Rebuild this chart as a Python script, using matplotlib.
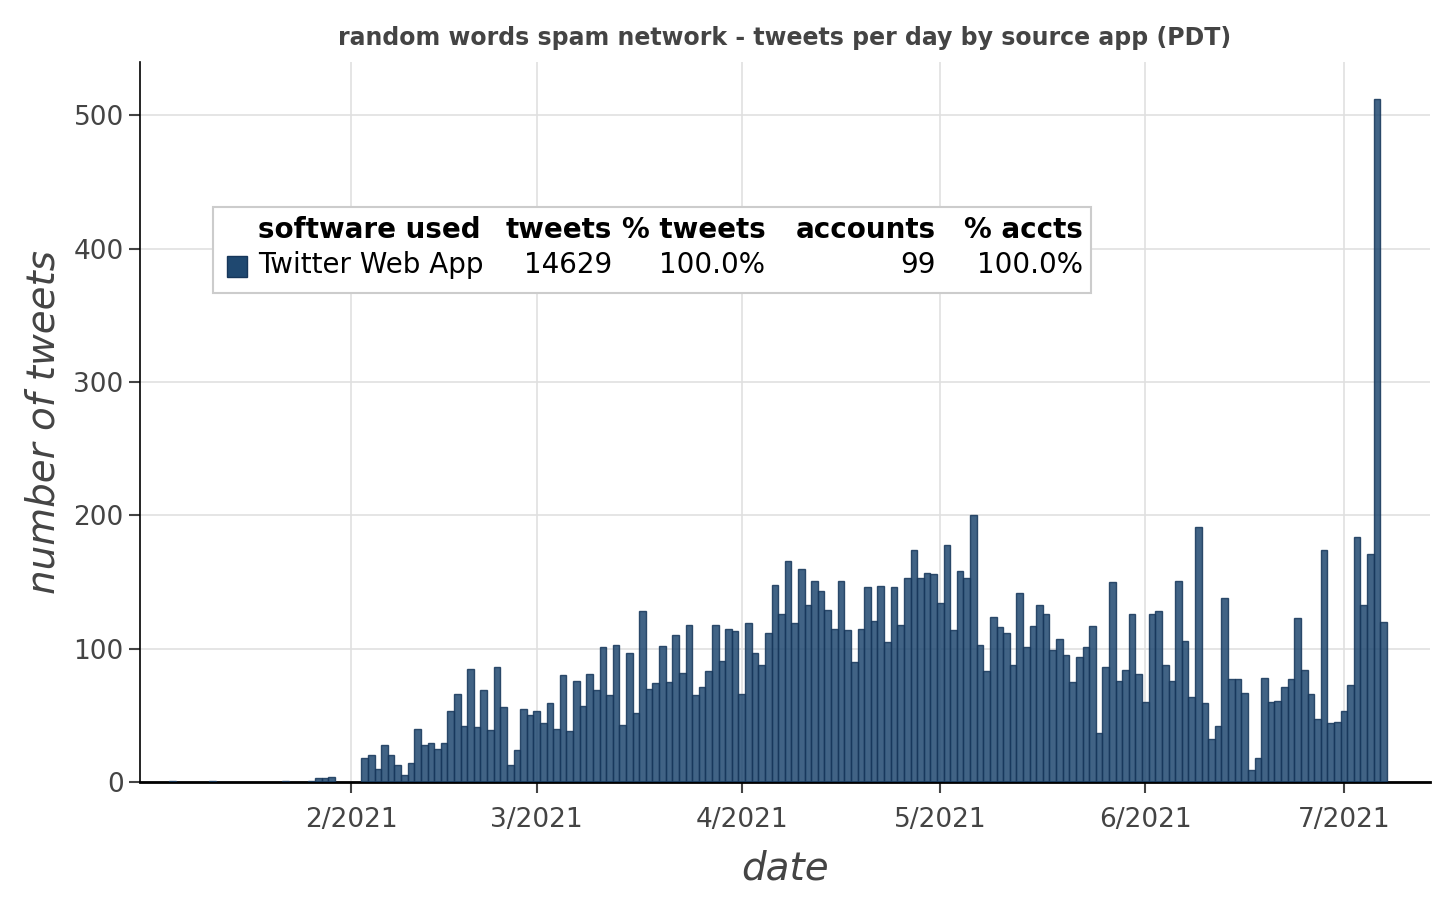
import numpy as np
import pandas as pd
import matplotlib.pyplot as plt
import matplotlib.dates as mdates
from matplotlib.patches import Rectangle

# early sparse days in January
early_dates = ["2021-01-05", "2021-01-11", "2021-01-22", "2021-01-26",
               "2021-01-27", "2021-01-28", "2021-01-29"]
early_counts = [1, 1, 1, 1, 3, 3, 4]

# daily counts from 2021-02-03 on
main_start = "2021-02-03"
main_counts = [
    18, 20, 10, 28, 20, 13, 5, 14, 40, 28,
    29, 25, 29, 53, 66, 42, 85, 41, 69, 39,
    86, 56, 13, 24, 55, 50, 53, 44, 59, 40,
    80, 38, 76, 57, 81, 69, 101, 65, 103, 43,
    97, 52, 128, 70, 74, 102, 75, 110, 82, 118,
    65, 71, 83, 118, 91, 115, 113, 66, 119, 97,
    88, 112, 148, 126, 166, 119, 160, 133, 151, 143,
    129, 115, 151, 114, 90, 115, 146, 121, 147, 105,
    146, 118, 153, 174, 153, 157, 156, 134, 178, 114,
    158, 153, 200, 103, 83, 124, 116, 112, 88, 142,
    101, 117, 133, 126, 99, 107, 95, 75, 94, 101,
    117, 37, 86, 150, 76, 84, 126, 81, 60, 126,
    128, 88, 76, 151, 106, 64, 191, 59, 32, 42,
    138, 77, 77, 67, 9, 18, 78, 60, 61, 71,
    77, 123, 84, 66, 47, 174, 44, 45, 53, 73,
    184, 133, 171, 512, 120,
]

legend_header = ["software used", "tweets", "% tweets", "accounts", "% accts"]
legend_row = ["Twitter Web App", "14629", "100.0%", "99", "100.0%"]

dates = list(pd.to_datetime(early_dates)) + list(
    pd.date_range(main_start, periods=len(main_counts), freq="D"))
counts = early_counts + main_counts

color = "#1f4870"
gray = "#444444"

fig = plt.figure(figsize=(14.4, 9), dpi=100)
ax = fig.add_axes([0.097, 0.131, 0.896, 0.80])
ax.bar(dates, counts, width=1.0, color=color, alpha=0.85,
       edgecolor="#16365a", linewidth=1.0, zorder=3)

ax.set_xlim(pd.Timestamp("2020-12-31"), pd.Timestamp("2021-07-14"))
ax.set_ylim(0, 540)
ax.xaxis.set_major_locator(mdates.MonthLocator(bymonth=range(2, 8)))
ax.xaxis.set_major_formatter(mdates.DateFormatter("%-m/%Y"))
ax.set_yticks([0, 100, 200, 300, 400, 500])
ax.grid(True, color="#e0e0e0", linewidth=1.2, zorder=0)
for s in ["top", "right"]:
    ax.spines[s].set_visible(False)
ax.spines["left"].set_linewidth(1.2)
ax.spines["bottom"].set_linewidth(2)
ax.tick_params(labelsize=19, colors=gray, length=8, width=1.5)
ax.tick_params(axis="x", pad=10)
for lbl in ax.get_xticklabels() + ax.get_yticklabels():
    lbl.set_color(gray)

ax.set_xlabel("date", fontsize=28, style="italic", color=gray, labelpad=12)
ax.set_ylabel("number of tweets", fontsize=28, style="italic", color=gray, labelpad=8)
ax.set_title("random words spam network - tweets per day by source app (PDT)",
             fontsize=17, fontweight="bold", color=gray, pad=12)

# legend table
box = Rectangle((0.057, 0.679), 0.68, 0.12, transform=ax.transAxes,
                facecolor="white", edgecolor="#cccccc", linewidth=1.5, zorder=5)
ax.add_patch(box)
ax.add_patch(Rectangle((0.068, 0.702), 0.015, 0.028, transform=ax.transAxes,
                       facecolor=color, edgecolor="#16365a", zorder=6))
xs = [0.092, 0.366, 0.485, 0.617, 0.731]
aligns = ["left", "right", "right", "right", "right"]
for x, h, r, a in zip(xs, legend_header, legend_row, aligns):
    ax.text(x, 0.767, h, transform=ax.transAxes, fontsize=20, fontweight="bold",
            ha=a, va="center", zorder=6)
    ax.text(x, 0.718, r, transform=ax.transAxes, fontsize=20,
            ha=a, va="center", zorder=6)

fig.savefig("out.png", dpi=100)
